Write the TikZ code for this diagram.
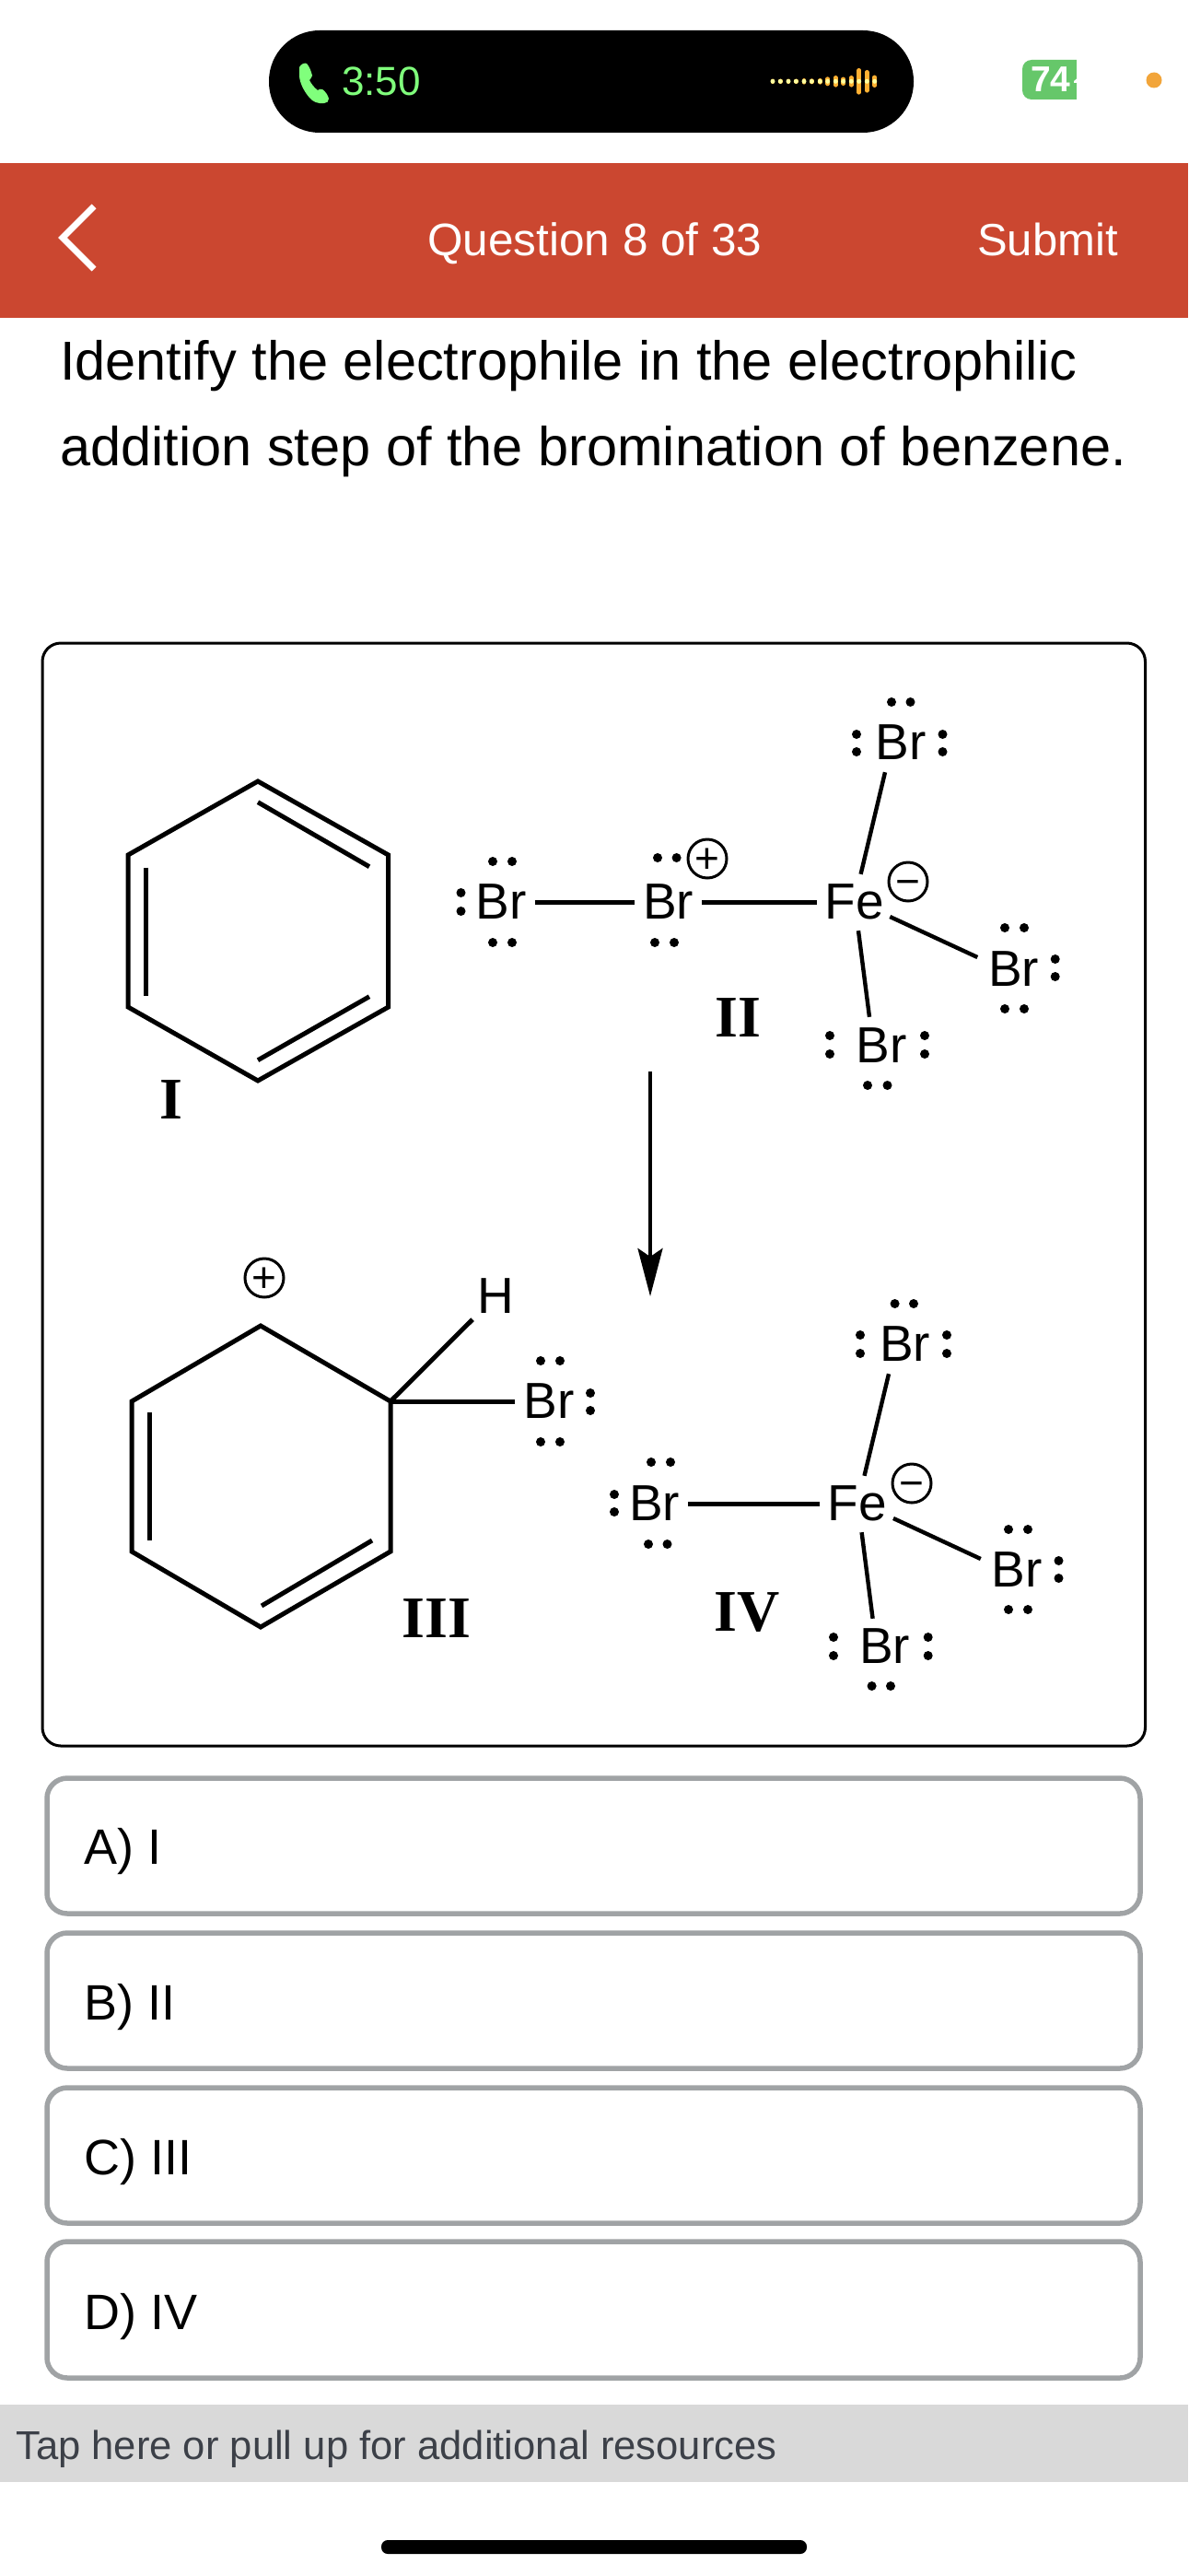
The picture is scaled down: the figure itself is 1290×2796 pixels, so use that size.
\documentclass[tikz,border=0pt]{standalone}
\usepackage{fontspec}
\setmainfont{Liberation Sans}
\newfontfamily\labelfont{Liberation Serif}
\usetikzlibrary{arrows.meta,calc}
\definecolor{barred}{HTML}{CB4730}
\definecolor{callgreen}{HTML}{80FF7C}
\definecolor{batgreen}{HTML}{66C76A}
\definecolor{dotorange}{HTML}{F2A53A}
\definecolor{optgray}{HTML}{A0A3A5}
\definecolor{stripgray}{HTML}{D9D9D9}
\definecolor{striptext}{HTML}{3C4048}
\definecolor{wavey}{HTML}{FFFF9E}
\definecolor{waveo}{HTML}{FFB032}
\tikzset{
  fs/.style={font=\fontsize{#1}{#1}\selectfont},
  txt/.style={anchor=base west,inner sep=0pt},
  atom/.style={font=\fontsize{55}{55}\selectfont,inner xsep=9pt,inner ysep=10pt,text height=38pt,text depth=0pt,anchor=center},
  numeral/.style={font=\fontsize{64}{64}\selectfont\labelfont\bfseries,inner sep=0pt,anchor=center},
  ring/.style={line width=5pt,line join=miter},
  bondline/.style={line width=4.4pt},
  heavybond/.style={line width=5pt},
  chg/.style={circle,draw,line width=3pt,minimum size=42pt,inner sep=0pt,text height=0pt,text depth=0pt,font=\fontsize{46}{46}\selectfont},
  optbox/.style={draw=optgray,line width=5.5pt,rounded corners=22pt},
}
\newcommand{\lpdot}[2]{\fill (#1,#2) circle (5pt);}
\newcommand{\chgtext}[1]{\raisebox{-.33em}{#1}}
\begin{document}
\begin{tikzpicture}[x=1pt,y=-1pt]
\useasboundingbox (0,0) rectangle (1290,2796);
\fill[white] (0,0) rectangle (1290,2796);
% status bar
\fill[black,rounded corners=55pt] (292,33) rectangle (992,144);
\fill[callgreen] (325,73) .. controls (327,69) and (331,68) .. (333,69) .. controls (336,72) and (338,78) .. (339,82) .. controls (339,84) and (337,85) .. (336,87) .. controls (338,91) and (341,95) .. (345,98) .. controls (347,97) and (348,96) .. (350,97) .. controls (353,99) and (356,103) .. (357,107) .. controls (357,110) and (355,112) .. (352,112) .. controls (345,113) and (339,110) .. (336,106) .. controls (330,99) and (326,91) .. (325,83) -- cycle;
\node[txt,fs=44,text=callgreen] (clock) at (371,103.5) {3:50};
\foreach \wx/\wh in {839/2.7,847.3/2.7,856/2.7,864.3/2.7,873/3.3,881.3/3,890.3/3.3,898.7/5,907.3/6.3,915.7/4.7,924.3/6.3,932.7/14.3,941.3/12.3,949.7/6.7}{
  \draw[line width=4.6pt,line cap=round,waveo] (\wx,88.3-\wh+2.3) -- (\wx,88.3+\wh-2.3);
  \fill[wavey] (\wx,88.3) circle (2.5pt);
}
\fill[batgreen,rounded corners=10pt] (1110,65) rectangle (1180,108);
\fill[white] (1169,60) rectangle (1185,112);
\node[txt,text=white,font=\fontsize{39}{39}\selectfont\bfseries] (battery) at (1119,100) {74};
\fill[white] (1166,88) -- (1169,85.5) -- (1169,90) -- (1166,90) -- cycle;
\fill[dotorange] (1253,87) circle (8.5pt);
% header bar
\fill[barred] (0,177) rectangle (1290,345);
\coordinate (chevA) at (102,224);
\coordinate (chevB) at (68,258);
\coordinate (chevC) at (102,292);
\draw[white,line width=7pt,line join=miter] (chevA) -- (chevB) -- (chevC);
\node[txt,fs=49.5,text=white] (qnum) at (464,277) {Question 8 of 33};
\node[txt,fs=49,text=white] (submit) at (1061,277) {Submit};
% question
\node[txt,fs=59.5] (q1) at (65,412) {Identify the electrophile in the electrophilic};
\node[txt,fs=59.5] (q2) at (65,505) {addition step of the bromination of benzene.};
% panel
\draw[line width=3pt,rounded corners=20pt] (46,698) rectangle (1243.5,1895);
% molecule I
\coordinate (a1) at (280,848);
\coordinate (a2) at (421.7,928);
\coordinate (a3) at (421.7,1093);
\coordinate (a4) at (280,1173);
\coordinate (a5) at (139,1093);
\coordinate (a6) at (139,928);
\draw[ring] (a1) -- (a2) -- (a3) -- (a4) -- (a5) -- (a6) -- cycle;
\coordinate (a7) at (158.7,941.7);
\coordinate (a8) at (158.7,1081);
\coordinate (a9) at (280,870.7);
\coordinate (a10) at (401,940.7);
\coordinate (a11) at (401,1081.7);
\coordinate (a12) at (280,1150.7);
\draw[ring] (a7) -- (a8);
\draw[ring] (a9) -- (a10);
\draw[ring] (a11) -- (a12);
\node[numeral] (lI) at (185.7,1194) {I};
% molecule II
\node[atom] (brA) at (544,978) {Br};
\node[atom] (brC) at (725.5,978) {Br};
\node[atom] (fe) at (928,978) {Fe};
\node[atom] (brT) at (978,805) {Br};
\node[atom] (brR) at (1100.5,1051) {Br};
\node[atom] (brB) at (957,1134) {Br};
\draw[heavybond] (brA.east |- 0,979) -- (brC.west |- 0,979);
\draw[heavybond] (brC.east |- 0,979) -- (fe.west |- 0,979);
\draw[bondline] ([shift={(6.6,0)}]fe.north) -- ([shift={(-17,4)}]brT.south);
\draw[bondline] ([shift={(-3,17)}]fe.east) -- ([shift={(-2.5,-12)}]brR.west);
\draw[bondline] ([shift={(4,3)}]fe.south) -- ([shift={(-13,-1)}]brB.north);
\node[chg] (plusA) at (768,932) {\chgtext{+}};
\node[chg] (minusA) at (986,957) {\chgtext{−}};
\lpdot{535}{935}\lpdot{556}{935}\lpdot{535}{1023}\lpdot{556}{1023}\lpdot{500.5}{969}\lpdot{500.5}{989}
\lpdot{714}{931}\lpdot{734.6}{931}\lpdot{711}{1023}\lpdot{732}{1023}
\lpdot{968}{762}\lpdot{988.5}{762}\lpdot{930}{797}\lpdot{930}{816}\lpdot{1023.5}{797}\lpdot{1023.5}{816}
\lpdot{1091}{1007}\lpdot{1112}{1007}\lpdot{1091}{1095}\lpdot{1112}{1095}\lpdot{1145.7}{1041}\lpdot{1145.7}{1060}
\lpdot{901}{1124}\lpdot{901}{1144}\lpdot{1004}{1124}\lpdot{1004}{1144}\lpdot{942}{1178}\lpdot{963.5}{1178}
\node[numeral] (lII) at (801.5,1105) {II};
% reaction arrow
\coordinate (arrS) at (706,1163);
\coordinate (arrE) at (706,1407);
\draw[line width=4pt,-{Stealth[length=52pt,width=27pt,inset=9pt]}] (arrS) -- (arrE);
% molecule III
\coordinate (b1) at (283,1439);
\coordinate (b2) at (424,1521);
\coordinate (b3) at (424,1684);
\coordinate (b4) at (283,1766);
\coordinate (b5) at (143,1684);
\coordinate (b6) at (143,1521);
\draw[ring] (b1) -- (b2) -- (b3) -- (b4) -- (b5) -- (b6) -- cycle;
\coordinate (b7) at (162,1533);
\coordinate (b8) at (162,1672);
\coordinate (b9) at (404,1672);
\coordinate (b10) at (284,1743);
\draw[ring] (b7) -- (b8);
\draw[ring] (b9) -- (b10);
\node[chg] (plusB) at (287,1387) {\chgtext{+}};
\node[atom] (hAtom) at (538,1406) {H};
\node[atom] (brX) at (596,1520) {Br};
\draw[heavybond] (b2) -- ([shift={(-25,-3)}]hAtom.south);
\draw[heavybond] (b2) -- (b2 -| brX.west);
\lpdot{587}{1477}\lpdot{608}{1477}\lpdot{587}{1565}\lpdot{608}{1565}\lpdot{641}{1512}\lpdot{641}{1531}
\node[numeral] (lIII) at (474,1757) {III};
% molecule IV
\node[atom] (brL) at (710.5,1631) {Br};
\node[atom] (feD) at (931,1631) {Fe};
\node[atom] (brTd) at (982.7,1458) {Br};
\node[atom] (brRd) at (1104,1703) {Br};
\node[atom] (brBd) at (960.6,1786) {Br};
\draw[heavybond] (brL.east |- 0,1632) -- (feD.west |- 0,1632);
\draw[bondline] ([shift={(7.5,0)}]feD.north) -- ([shift={(-17.7,4)}]brTd.south);
\draw[bondline] ([shift={(-2.3,17)}]feD.east) -- ([shift={(-2.5,-11)}]brRd.west);
\draw[bondline] ([shift={(4.6,3)}]feD.south) -- ([shift={(-13,0)}]brBd.north);
\node[chg] (minusB) at (990,1610) {\chgtext{−}};
\lpdot{707}{1587}\lpdot{728}{1587}\lpdot{704}{1676}\lpdot{724.5}{1676}\lpdot{667}{1622}\lpdot{667}{1641}
\lpdot{971.6}{1415}\lpdot{992}{1415}\lpdot{934}{1449}\lpdot{934}{1469}\lpdot{1028}{1449}\lpdot{1028}{1469}
\lpdot{1095}{1660}\lpdot{1116}{1660}\lpdot{1095}{1747}\lpdot{1116}{1747}\lpdot{1149.5}{1694}\lpdot{1149.5}{1713}
\lpdot{905}{1777}\lpdot{905}{1797}\lpdot{1007.7}{1777}\lpdot{1007.7}{1797}\lpdot{946.6}{1830}\lpdot{967}{1830}
\node[numeral] (lIV) at (811.5,1750) {IV};
% options
\draw[optbox] (51,1930) rectangle (1238,2077);
\draw[optbox] (51,2098) rectangle (1238,2245);
\draw[optbox] (51,2266) rectangle (1238,2413);
\draw[optbox] (51,2433) rectangle (1238,2581);
\node[txt,fs=54] (optA) at (91,2023) {A) I};
\node[txt,fs=54] (optB) at (91,2192) {B) II};
\node[txt,fs=54] (optC) at (91,2360) {C) III};
\node[txt,fs=54] (optD) at (91,2528) {D) IV};
% bottom
\fill[stripgray] (0,2610) rectangle (1290,2694);
\node[txt,fs=43.6,text=striptext] (tap) at (17,2669) {Tap here or pull up for additional resources};
\fill[black,rounded corners=7pt] (414,2757) rectangle (876,2772);
\end{tikzpicture}
\end{document}
